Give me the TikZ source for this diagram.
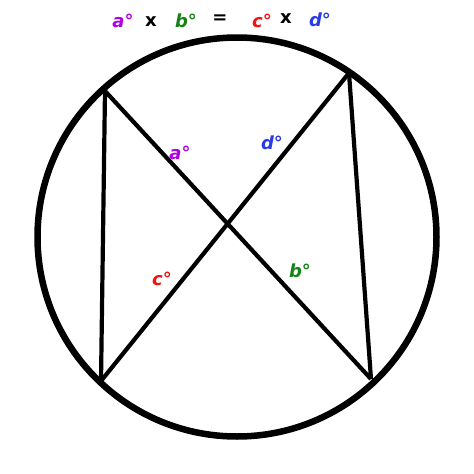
\documentclass[tikz,border=0pt]{standalone}
\usepackage{fontspec}
\setmainfont{DejaVu Sans}
\definecolor{cA}{RGB}{178,0,230}
\definecolor{cB}{RGB}{20,130,20}
\definecolor{cC}{RGB}{240,20,20}
\definecolor{cD}{RGB}{40,60,230}
\begin{document}
\begin{tikzpicture}[x=1pt,y=-1pt,
  lbl/.style={font=\fontsize{18}{18}\selectfont\bfseries\itshape, inner sep=0pt},
  op/.style={font=\fontsize{18}{18}\selectfont\bfseries, inner sep=0pt},
  chord/.style={line width=4.2pt}]
\useasboundingbox (0,0) rectangle (474,474);
\fill[white] (0,0) rectangle (474,474);
\node[circle, draw, line width=6.5pt, minimum size=399pt, inner sep=0pt] (circ) at (237,237) {};
\coordinate (A) at (105,91);
\coordinate (B) at (101,381);
\coordinate (C) at (349,73);
\coordinate (D) at (371,379);
\draw[chord] (A) -- (D);
\draw[chord] (C) -- (B);
\draw[chord] (A) -- (B);
\draw[chord] (C) -- (D);
\node[lbl, text=cA] (ta) at (123,21) {a°};
\node[op] (tx1) at (151,22) {x};
\node[lbl, text=cB] (tb) at (186,21) {b°};
\node[op] (teq) at (220,19) {=};
\node[lbl, text=cC] (tc) at (262,21) {c°};
\node[op] (tx2) at (286,19) {x};
\node[lbl, text=cD] (td) at (320,20) {d°};
\node[lbl, text=cA] (la) at (180,153) {a°};
\node[lbl, text=cD] (ld) at (272,143) {d°};
\node[lbl, text=cC] (lc) at (162,279) {c°};
\node[lbl, text=cB] (lb) at (300,271) {b°};
\end{tikzpicture}
\end{document}
